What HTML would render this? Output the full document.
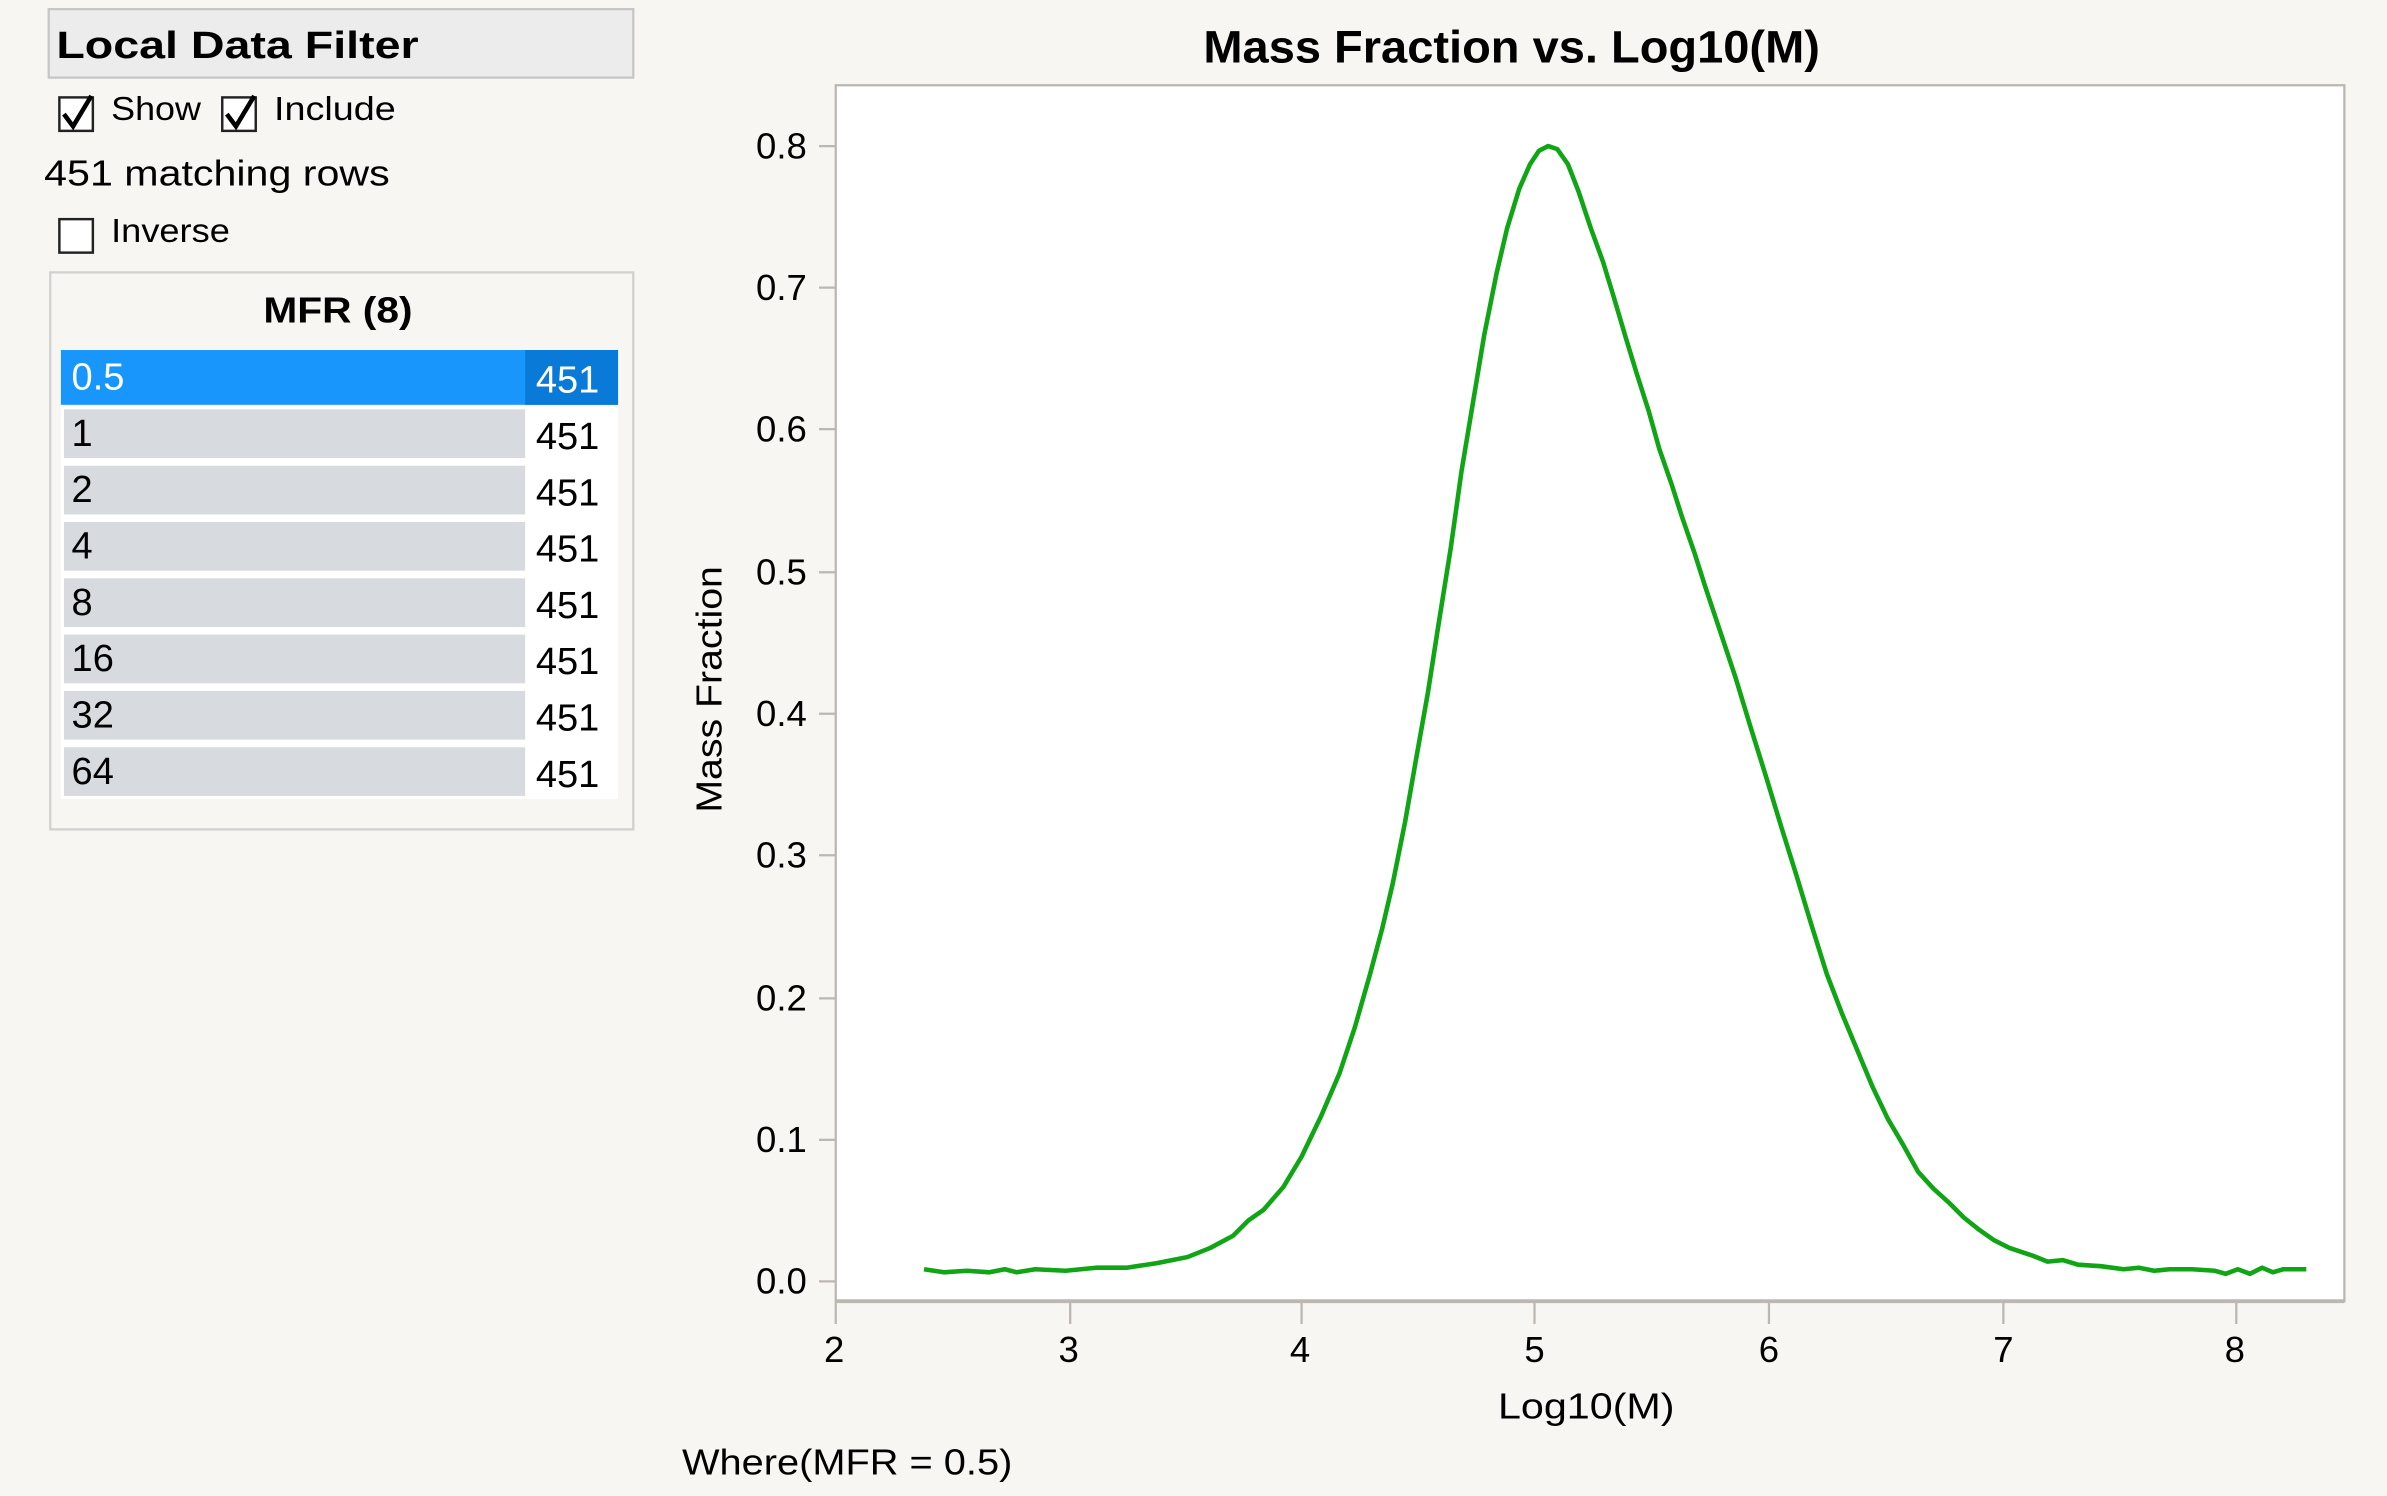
<!DOCTYPE html>
<html><head><meta charset="utf-8"><style>html,body{margin:0;padding:0;background:#f7f6f3;}svg{display:block;}</style></head><body>
<svg width="2387" height="1496" viewBox="0 0 1568 983" preserveAspectRatio="none" xmlns="http://www.w3.org/2000/svg" font-family="Liberation Sans, sans-serif">
<rect x="0" y="0" width="1568" height="983" fill="#f7f6f3"/>
<!-- Local data filter -->
<rect x="32" y="6" width="384" height="45" fill="#ececec" stroke="#c6c6c6" stroke-width="1.5"/>
<text x="37" y="38" font-size="25" font-weight="bold" textLength="238" lengthAdjust="spacingAndGlyphs">Local Data Filter</text>
<rect x="39" y="64" width="22" height="22" fill="#fff" stroke="#222" stroke-width="1.6"/>
<path d="M42 75 L48 83 L60 63" fill="none" stroke="#000" stroke-width="3"/>
<text x="73" y="79" font-size="22" textLength="59" lengthAdjust="spacingAndGlyphs">Show</text>
<rect x="146" y="64" width="22" height="22" fill="#fff" stroke="#222" stroke-width="1.6"/>
<path d="M149 75 L155 83 L167 63" fill="none" stroke="#000" stroke-width="3"/>
<text x="180" y="79" font-size="22" textLength="80" lengthAdjust="spacingAndGlyphs">Include</text>
<text x="29" y="122" font-size="24" textLength="227" lengthAdjust="spacingAndGlyphs">451 matching rows</text>
<rect x="39" y="144" width="22" height="22" fill="#fff" stroke="#222" stroke-width="1.6"/>
<text x="73" y="159" font-size="22" textLength="78" lengthAdjust="spacingAndGlyphs">Inverse</text>
<rect x="33" y="179" width="383" height="366" fill="#f7f6f3" stroke="#d0d0d0" stroke-width="1.5"/>
<text x="222" y="212" font-size="24" font-weight="bold" text-anchor="middle" textLength="98" lengthAdjust="spacingAndGlyphs">MFR (8)</text>
<rect x="40" y="230" width="366" height="295" fill="#fff"/>
<rect x="40" y="230" width="366" height="36" fill="#1896fc"/>
<rect x="345" y="230" width="61" height="36" fill="#0a7ad9"/>
<g fill="#d7dbdf">
<rect x="42" y="269" width="303" height="32"/><rect x="42" y="306" width="303" height="32"/>
<rect x="42" y="343" width="303" height="32"/><rect x="42" y="380" width="303" height="32"/>
<rect x="42" y="417" width="303" height="32"/><rect x="42" y="454" width="303" height="32"/>
<rect x="42" y="491" width="303" height="32"/>
</g>
<g font-size="25">
<text x="47" y="256" fill="#fff">0.5</text><text x="352" y="258" fill="#fff">451</text>
<text x="47" y="293">1</text><text x="352" y="295">451</text>
<text x="47" y="330">2</text><text x="352" y="332">451</text>
<text x="47" y="367">4</text><text x="352" y="369">451</text>
<text x="47" y="404">8</text><text x="352" y="406">451</text>
<text x="47" y="441">16</text><text x="352" y="443">451</text>
<text x="47" y="478">32</text><text x="352" y="480">451</text>
<text x="47" y="515">64</text><text x="352" y="517">451</text>
</g>
<!-- Chart -->
<text x="993" y="41" font-size="30" font-weight="bold" text-anchor="middle" textLength="405" lengthAdjust="spacingAndGlyphs">Mass Fraction vs. Log10(M)</text>
<rect x="549" y="56" width="991" height="799" fill="#fff"/>
<path d="M549 56 H1540 V855 H549 Z" fill="none" stroke="#bdb7b1" stroke-width="1.5"/>
<line x1="549" y1="855" x2="1540" y2="855" stroke="#bdb7b1" stroke-width="2.5"/>
<g stroke="#bdb7b1" stroke-width="1.5">
<line x1="538" y1="842" x2="549" y2="842"/><line x1="538" y1="749" x2="549" y2="749"/>
<line x1="538" y1="656" x2="549" y2="656"/><line x1="538" y1="562" x2="549" y2="562"/>
<line x1="538" y1="469" x2="549" y2="469"/><line x1="538" y1="376" x2="549" y2="376"/>
<line x1="538" y1="282" x2="549" y2="282"/><line x1="538" y1="189" x2="549" y2="189"/>
<line x1="538" y1="96" x2="549" y2="96"/>
<line x1="549" y1="855" x2="549" y2="870"/><line x1="703" y1="855" x2="703" y2="870"/>
<line x1="855" y1="855" x2="855" y2="870"/><line x1="1008" y1="855" x2="1008" y2="870"/>
<line x1="1162" y1="855" x2="1162" y2="870"/><line x1="1316" y1="855" x2="1316" y2="870"/>
<line x1="1469" y1="855" x2="1469" y2="870"/>
</g>
<g font-size="24" text-anchor="end">
<text x="530" y="850">0.0</text><text x="530" y="757">0.1</text><text x="530" y="664">0.2</text>
<text x="530" y="570">0.3</text><text x="530" y="477">0.4</text><text x="530" y="384">0.5</text>
<text x="530" y="290">0.6</text><text x="530" y="197">0.7</text><text x="530" y="104">0.8</text>
</g>
<g font-size="24" text-anchor="middle">
<text x="548" y="895">2</text><text x="702" y="895">3</text><text x="854" y="895">4</text>
<text x="1008" y="895">5</text><text x="1162" y="895">6</text><text x="1316" y="895">7</text>
<text x="1468" y="895">8</text>
<text x="1042" y="932" textLength="116" lengthAdjust="spacingAndGlyphs">Log10(M)</text>
</g>
<text transform="translate(474,453) rotate(-90)" font-size="24" text-anchor="middle" textLength="162" lengthAdjust="spacingAndGlyphs">Mass Fraction</text>
<text x="448" y="969" font-size="24" textLength="217" lengthAdjust="spacingAndGlyphs">Where(MFR = 0.5)</text>
<path fill="none" stroke="#10a514" stroke-width="3" stroke-linejoin="round" d="M607 834 L620 836 L635 835 L650 836 L660 834 L668 836 L680 834 L700 835 L720 833 L740 833 L760 830 L780 826 L795 820 L810 812 L820 802 L830 795 L843 780 L855 760 L868 733 L880 705 L890 675 L900 640 L908 610 L915 580 L923 540 L930 500 L938 455 L945 410 L953 360 L960 310 L968 262 L975 220 L983 180 L990 150 L998 124 L1005 108 L1011 99 L1017 96 L1023 98 L1030 108 L1037 126 L1045 150 L1053 172 L1060 195 L1068 222 L1075 245 L1083 270 L1090 295 L1098 318 L1105 340 L1113 363 L1120 385 L1130 415 L1140 445 L1150 478 L1160 510 L1170 543 L1180 575 L1190 608 L1200 640 L1210 666 L1220 690 L1230 714 L1240 735 L1250 752 L1260 770 L1270 781 L1280 790 L1290 800 L1300 808 L1310 815 L1320 820 L1335 825 L1345 829 L1355 828 L1365 831 L1380 832 L1395 834 L1405 833 L1415 835 L1425 834 L1440 834 L1455 835 L1462 837 L1470 834 L1478 837 L1486 833 L1493 836 L1500 834 L1515 834"/>
</svg>
</body></html>
